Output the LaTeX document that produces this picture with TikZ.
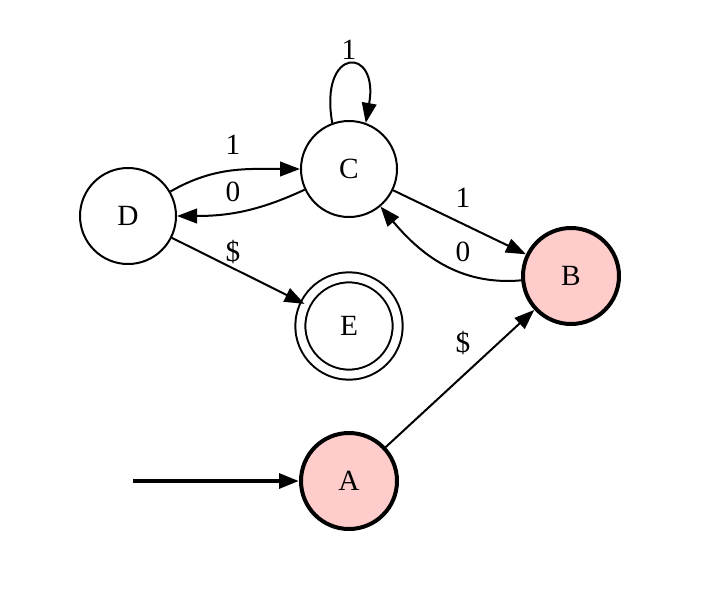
\documentclass[tikz,border=0pt]{standalone}
\usepackage{fontspec}
\setmainfont{Liberation Serif}
\usetikzlibrary{arrows.meta}
\begin{document}
\begin{tikzpicture}[x=0.75pt,y=-0.75pt,
  st/.style={circle,draw,line width=1.5pt,minimum size=72pt,inner sep=0pt,font=\fontsize{22}{24}\selectfont},
  acc/.style={st,fill=pink!80!white,line width=3pt},
  lbl/.style={font=\fontsize{22}{24}\selectfont,inner sep=1pt},
  e/.style={line width=1.5pt,-{Triangle[length=15pt,width=11pt]}}]
\useasboundingbox (0,0) rectangle (706,610);
\node[st] (D) at (128,216) {D};
\node[st] (C) at (349,169) {C};
\node[acc] (B) at (571,276) {B};
\node[st,double,double distance=6pt,minimum size=73pt] (E) at (349,326) {E};
\node[acc] (A) at (349,481) {A};
\coordinate (S) at (133,481);
\draw[e,line width=3pt] (S) -- (A);
\draw[e] (D) to[out=30,in=180] (C);
\draw[e] (C) to[out=205,in=0] (D);
\draw[e] (D) -- (E);
\draw[e] (C) -- (B);
\draw[e] (B) to[out=185,in=-50] (C);
\draw[e] (A) -- (B);
\draw[e] (C.110) to[out=100,in=80,looseness=6] (C.70);
\node[lbl] (l1) at (233,145) {1};
\node[lbl] (l2) at (233,192) {0};
\node[lbl] (l3) at (233,252) {\$};
\node[lbl] (l4) at (463,198) {1};
\node[lbl] (l5) at (463,252) {0};
\node[lbl] (l6) at (463,343) {\$};
\node[lbl] (l7) at (349,50) {1};
\end{tikzpicture}
\end{document}
